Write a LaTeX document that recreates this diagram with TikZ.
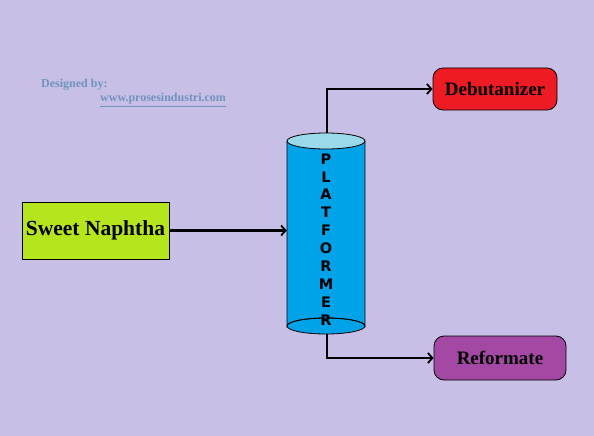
\documentclass[tikz,border=0pt]{standalone}
\usepackage{fontspec}
\setmainfont{Liberation Serif}
\newfontfamily\heavysans{DejaVu Sans}
\usetikzlibrary{arrows.meta}
\definecolor{lavender}{HTML}{C8BFE7}
\definecolor{limegreen}{HTML}{B5E61D}
\definecolor{reactorblue}{HTML}{00A2E8}
\definecolor{reactortop}{HTML}{99D9EA}
\definecolor{debred}{HTML}{ED1C24}
\definecolor{refpurple}{HTML}{A349A4}
\definecolor{credit}{HTML}{7092BE}
\tikzset{
  feedbox/.style={draw, line width=0.8pt, fill=limegreen, inner sep=0pt,
    minimum width=147, minimum height=57, font=\fontsize{21.5}{24}\selectfont\bfseries},
  prodbox/.style={draw, line width=0.8pt, rounded corners=10pt, inner sep=0pt,
    font=\fontsize{19}{22}\selectfont\bfseries},
  letter/.style={inner sep=0pt, font=\heavysans\fontsize{14.5}{14.5}\selectfont\bfseries},
  flow/.style={line width=2.6pt, -{Straight Barb[length=4.5pt, width=10pt, line width=1.8pt]}},
  note/.style={inner sep=0pt, text=credit, font=\fontsize{12}{14}\selectfont\bfseries}
}
\begin{document}
\begin{tikzpicture}[x=1pt, y=-1pt]
  \fill[lavender] (0,0) rectangle (594,436);
  \useasboundingbox (0,0) rectangle (594,436);

  % credit
  \node[note, anchor=west] (des) at (41,85) {Designed by:};
  \node[note, anchor=west] (www) at (100,100) {\underline{www.prosesindustri.com}};

  % feed
  \node[feedbox] (nap) at (95.5,230.5) {Sweet Naphtha};

  % platformer column
  \fill[reactorblue] (287,141) rectangle (365,326);
  \fill[reactorblue] (326,326) ellipse [x radius=39, y radius=8];
  \draw[line width=0.8pt] (287,141) -- (287,326) arc [start angle=180, end angle=360, x radius=39, y radius=8] -- (365,141);
  \draw[line width=0.8pt] (326,326) ellipse [x radius=39, y radius=8];
  \draw[line width=0.8pt, fill=reactortop] (326,141) ellipse [x radius=39, y radius=8];
  \node[inner sep=0pt, minimum width=78, minimum height=185] (plat) at (326,233.5) {};
  \coordinate (ctop) at (327,133);
  \coordinate (cbot) at (327,334);
  \foreach \ch [count=\i] in {P,L,A,T,F,O,R,M,E,R}
    \node[letter] (l\i) at (326,141+17.9*\i) {\ch};

  % products
  \node[prodbox, fill=debred, minimum width=124, minimum height=42] (deb) at (495,89) {Debutanizer};
  \node[prodbox, fill=refpurple, minimum width=132, minimum height=44] (ref) at (500,358) {Reformate};

  \begin{scope}[flow]
    \draw (nap.east) to (nap.east -| plat.west);
    \draw (ctop) |- (deb.west);
    \draw (cbot) |- (ref.west);
  \end{scope}
\end{tikzpicture}
\end{document}
